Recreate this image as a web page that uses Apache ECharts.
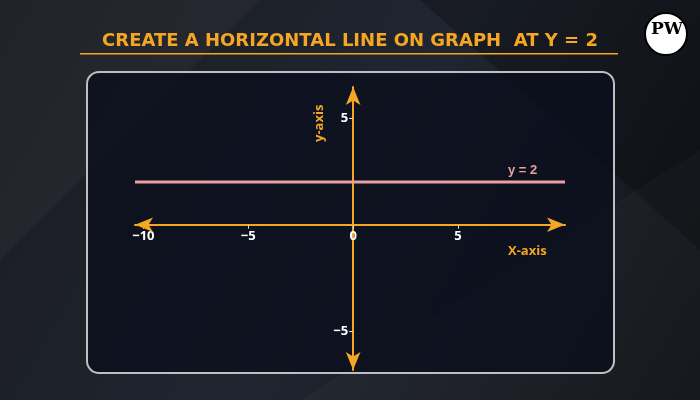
<!DOCTYPE html>
<html><head><meta charset="utf-8">
<script src="https://cdn.jsdelivr.net/npm/echarts@6/dist/echarts.min.js"></script>
<style>html,body{margin:0;padding:0;background:#111;}#c{width:700px;height:400px;}</style>
</head><body><div id="c"></div>
<script>
const titleText = "CREATE A HORIZONTAL LINE ON GRAPH  AT Y = 2";
const xTicks = [-10, -5, 0, 5];
const yTicks = [-5, 5];
const xRange = [-10.4, 10.1];
const yRange = [-6.8, 6.45];
const lineY = 2;
const lineLabel = "y = 2";
const lineData = [[xRange[0], lineY], [xRange[1], lineY]];
const orange = '#f5a623';
const chart = echarts.init(document.getElementById('c'));
const axisCommon = (ticks, range) => ({type:'value',min:range[0],max:range[1],splitLine:{show:false},
    axisLine:{onZero:false,symbol:['arrow','arrow'],symbolSize:[11,18],lineStyle:{color:orange,width:2}},
    axisTick:{customValues:ticks,length:4,lineStyle:{color:'#ddd'}},
    axisLabel:{customValues:ticks,formatter:v=>String(v).replace('-','\u2212'),color:'#fff',fontWeight:'bold',fontSize:13,margin:5,fontFamily:'Open Sans'}});
chart.setOption({
  backgroundColor: {type:'linear',x:0,y:0,x2:1,y2:1,colorStops:[{offset:0,color:'#1a1c22'},{offset:0.5,color:'#202530'},{offset:1,color:'#121318'}]},
  graphic: [
    {type:'polygon',silent:true,z:-10,shape:{points:[[0,0],[260,0],[0,260]]},style:{fill:'rgba(255,255,255,0.03)'}},
    {type:'polygon',silent:true,z:-10,shape:{points:[[420,0],[700,0],[700,250]]},style:{fill:'rgba(0,0,0,0.25)'}},
    {type:'polygon',silent:true,z:-10,shape:{points:[[300,400],[700,150],[700,400]]},style:{fill:'rgba(255,255,255,0.025)'}},
    {type:'rect',silent:true,z:-5,shape:{x:87,y:72,width:527,height:301,r:12},style:{fill:'rgba(10,14,28,0.75)',stroke:'#bfbfbf',lineWidth:2}},
    {type:'text',left:'center',top:32,z:10,style:{text:titleText,fill:orange,font:'900 18px "DejaVu Sans", sans-serif'}},
    {type:'rect',z:10,shape:{x:80,y:53,width:538,height:1.5},style:{fill:orange}},
    {type:'circle',z:10,shape:{cx:666,cy:34,r:21},style:{fill:'#fff',stroke:'#000',lineWidth:2}},
    {type:'text',z:11,left:651,top:21,style:{text:'PW',fill:'#000',font:'bold 17px "DejaVu Serif", serif'}},
    {type:'text',z:10,left:508,top:245,style:{text:'X-axis',fill:orange,font:'bold 13px "Open Sans", sans-serif'}},
    {type:'text',z:10,x:313,y:142,rotation:Math.PI/2,style:{text:'y-axis',fill:orange,font:'bold 13px "Open Sans", sans-serif'}}
  ],
  grid:{left:135,right:135,top:87,bottom:30},
  xAxis:axisCommon(xTicks, xRange),
  yAxis:axisCommon(yTicks, yRange),
  series:[{type:'line',data:lineData,symbol:'none',lineStyle:{color:'#e8a0a0',width:3},z:1,
    endLabel:{show:true,formatter:lineLabel,color:'#e8a0a0',fontWeight:'bold',fontSize:13,offset:[-65,-12]}}]
});
const origin = chart.convertToPixel({gridIndex:0},[0,0]);
const rect = chart.getModel().getComponent('grid',0).coordinateSystem.getRect();
chart.setOption({
  xAxis:{offset:-(rect.y+rect.height-origin[1])},
  yAxis:{offset:-(origin[0]-rect.x)}
});
</script></body></html>
